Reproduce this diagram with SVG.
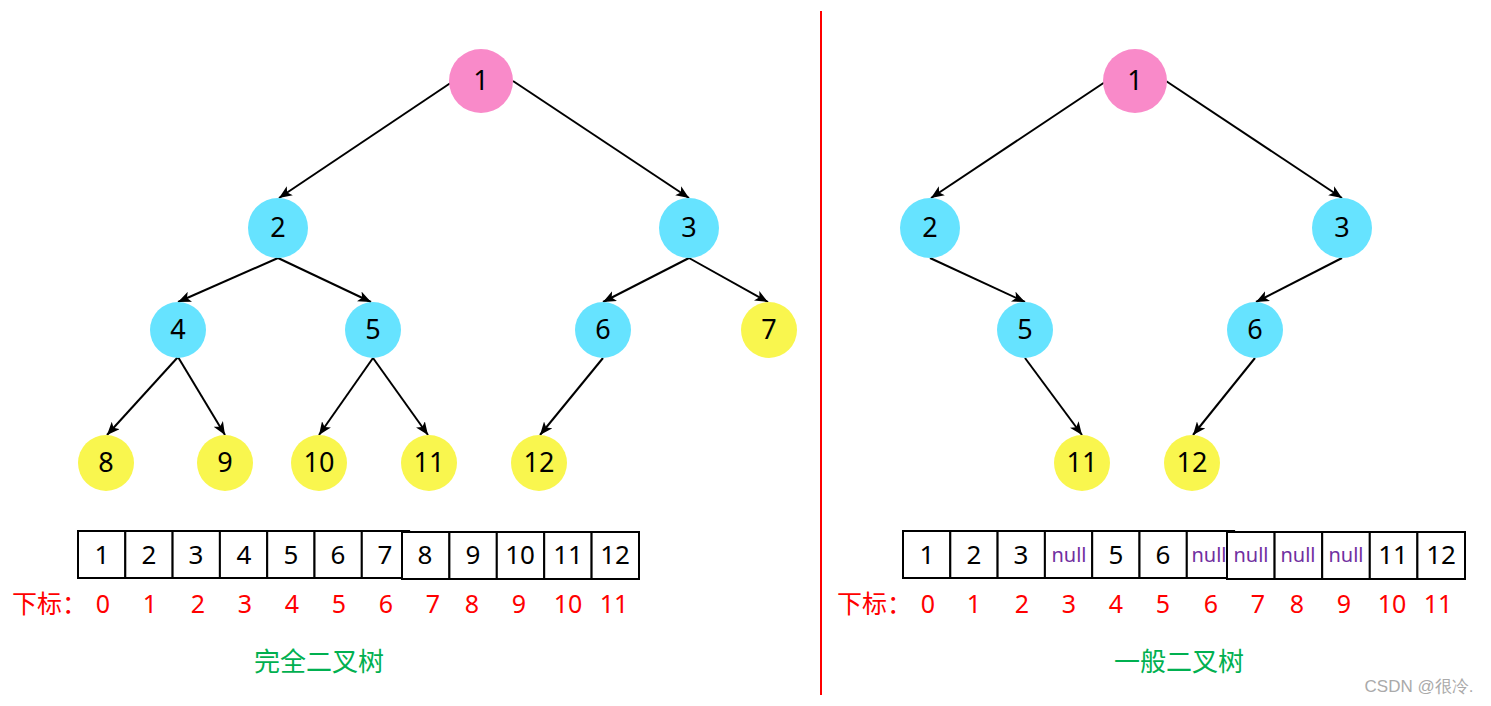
<svg xmlns="http://www.w3.org/2000/svg" width="1491" height="706" viewBox="0 0 1491 706">
<style>
.pink{fill:#F98AC9}
.cyan{fill:#66E3FF}
.yel{fill:#F9F64E}
.nt{font-family:"Noto Sans","Noto Sans CJK SC",sans-serif;font-size:27px;fill:#000;text-anchor:middle}
.cell{fill:#fff;stroke:#000;stroke-width:2}
.ct{font-family:"Noto Sans","Noto Sans CJK SC",sans-serif;font-size:26px;fill:#000;text-anchor:middle}
.nul{font-family:"Noto Sans","Noto Sans CJK SC",sans-serif;font-size:20px;fill:#7030A0;text-anchor:middle}
.idx{font-family:"Noto Sans","Noto Sans CJK SC",sans-serif;font-size:25px;fill:#FF0000;text-anchor:middle}
.lbl{font-family:"Noto Sans CJK SC","Noto Sans",sans-serif;font-size:25px;fill:#FF0000}
.cap{font-family:"Noto Sans CJK SC",sans-serif;font-size:26px;fill:#00B050;text-anchor:middle}
.edge{stroke:#000;stroke-width:2;fill:none;marker-end:url(#arr)}
</style>
<defs>
<marker id="arr" viewBox="0 0 12 10" refX="12" refY="5" markerWidth="13" markerHeight="11" markerUnits="userSpaceOnUse" orient="auto">
<path d="M0,0 L12,5 L0,10 L3,5 Z" fill="#000"/>
</marker>
</defs>
<rect width="1491" height="706" fill="#fff"/>
<g id="connectors">
<line class="edge" x1="452" y1="82" x2="279" y2="198"/>
<line class="edge" x1="513" y1="81" x2="689" y2="198"/>
<line class="edge" x1="278" y1="258" x2="178" y2="302"/>
<line class="edge" x1="278" y1="258" x2="371" y2="302"/>
<line class="edge" x1="689" y1="258" x2="603" y2="302"/>
<line class="edge" x1="689" y1="258" x2="768" y2="302"/>
<line class="edge" x1="178" y1="357" x2="107" y2="435"/>
<line class="edge" x1="178" y1="357" x2="225" y2="435"/>
<line class="edge" x1="373" y1="358" x2="319" y2="435"/>
<line class="edge" x1="373" y1="358" x2="428" y2="435"/>
<line class="edge" x1="603" y1="358" x2="540" y2="435"/>
<line class="edge" x1="1105" y1="82" x2="931" y2="198"/>
<line class="edge" x1="1166" y1="81" x2="1342" y2="198"/>
<line class="edge" x1="930" y1="258" x2="1025" y2="302"/>
<line class="edge" x1="1342" y1="258" x2="1256" y2="302"/>
<line class="edge" x1="1025" y1="358" x2="1082" y2="435"/>
<line class="edge" x1="1255" y1="358" x2="1193" y2="435"/>
</g>
<g id="L1"><circle class="pink" cx="481" cy="81" r="32"/><text class="nt" x="481" y="90">1</text></g>
<g id="L2"><circle class="cyan" cx="278" cy="228" r="30"/><text class="nt" x="278" y="237">2</text></g>
<g id="L3"><circle class="cyan" cx="689" cy="228" r="30"/><text class="nt" x="689" y="237">3</text></g>
<g id="L4"><circle class="cyan" cx="178" cy="330" r="28"/><text class="nt" x="178" y="339">4</text></g>
<g id="L5"><circle class="cyan" cx="373" cy="330" r="28"/><text class="nt" x="373" y="339">5</text></g>
<g id="L6"><circle class="cyan" cx="603" cy="330" r="28"/><text class="nt" x="603" y="339">6</text></g>
<g id="L7"><circle class="yel" cx="769" cy="330" r="28"/><text class="nt" x="769" y="339">7</text></g>
<g id="L8"><circle class="yel" cx="106" cy="463" r="28"/><text class="nt" x="106" y="472">8</text></g>
<g id="L9"><circle class="yel" cx="225" cy="463" r="28"/><text class="nt" x="225" y="472">9</text></g>
<g id="L10"><circle class="yel" cx="319" cy="463" r="28"/><text class="nt" x="319" y="472">10</text></g>
<g id="L11"><circle class="yel" cx="429" cy="463" r="28"/><text class="nt" x="429" y="472">11</text></g>
<g id="L12"><circle class="yel" cx="539" cy="463" r="28"/><text class="nt" x="539" y="472">12</text></g>
<g id="R1"><circle class="pink" cx="1135" cy="81" r="32"/><text class="nt" x="1135" y="90">1</text></g>
<g id="R2"><circle class="cyan" cx="930" cy="228" r="30"/><text class="nt" x="930" y="237">2</text></g>
<g id="R3"><circle class="cyan" cx="1342" cy="228" r="30"/><text class="nt" x="1342" y="237">3</text></g>
<g id="R5"><circle class="cyan" cx="1025" cy="330" r="28"/><text class="nt" x="1025" y="339">5</text></g>
<g id="R6"><circle class="cyan" cx="1255" cy="330" r="28"/><text class="nt" x="1255" y="339">6</text></g>
<g id="R11"><circle class="yel" cx="1082" cy="463" r="28"/><text class="nt" x="1082" y="472">11</text></g>
<g id="R12"><circle class="yel" cx="1192" cy="463" r="28"/><text class="nt" x="1192" y="472">12</text></g>
<g id="left-array">
<rect class="cell" x="78" y="531" width="47.3" height="47"/>
<rect class="cell" x="125.3" y="531" width="47.3" height="47"/>
<rect class="cell" x="172.6" y="531" width="47.3" height="47"/>
<rect class="cell" x="219.9" y="531" width="47.3" height="47"/>
<rect class="cell" x="267.2" y="531" width="47.3" height="47"/>
<rect class="cell" x="314.5" y="531" width="47.3" height="47"/>
<rect class="cell" x="361.8" y="531" width="47.3" height="47"/>
<rect class="cell" x="402" y="532" width="47.4" height="47"/>
<rect class="cell" x="449.4" y="532" width="47.4" height="47"/>
<rect class="cell" x="496.8" y="532" width="47.4" height="47"/>
<rect class="cell" x="544.2" y="532" width="47.4" height="47"/>
<rect class="cell" x="591.6" y="532" width="47.4" height="47"/>
<text class="ct" x="102" y="564">1</text>
<text class="ct" x="149" y="564">2</text>
<text class="ct" x="196" y="564">3</text>
<text class="ct" x="244" y="564">4</text>
<text class="ct" x="291" y="564">5</text>
<text class="ct" x="338" y="564">6</text>
<text class="ct" x="385" y="564">7</text>
<text class="ct" x="425" y="564">8</text>
<text class="ct" x="473" y="564">9</text>
<text class="ct" x="520" y="564">10</text>
<text class="ct" x="568" y="564">11</text>
<text class="ct" x="615" y="564">12</text>
</g>
<g id="left-index">
<text class="lbl" x="12" y="613">下标：</text>
<text class="idx" x="103" y="613">0</text>
<text class="idx" x="150" y="613">1</text>
<text class="idx" x="198" y="613">2</text>
<text class="idx" x="245" y="613">3</text>
<text class="idx" x="292" y="613">4</text>
<text class="idx" x="339" y="613">5</text>
<text class="idx" x="386" y="613">6</text>
<text class="idx" x="433" y="613">7</text>
<text class="idx" x="472" y="613">8</text>
<text class="idx" x="519" y="613">9</text>
<text class="idx" x="568" y="613">10</text>
<text class="idx" x="614" y="613">11</text>
</g>
<g id="right-array">
<rect class="cell" x="903" y="531" width="47.3" height="47"/>
<rect class="cell" x="950.3" y="531" width="47.3" height="47"/>
<rect class="cell" x="997.6" y="531" width="47.3" height="47"/>
<rect class="cell" x="1044.9" y="531" width="47.3" height="47"/>
<rect class="cell" x="1092.2" y="531" width="47.3" height="47"/>
<rect class="cell" x="1139.5" y="531" width="47.3" height="47"/>
<rect class="cell" x="1186.8" y="531" width="47.3" height="47"/>
<text class="nul" x="1209" y="562">null</text>
<rect class="cell" x="1227" y="532" width="47.6" height="47"/>
<rect class="cell" x="1274.6" y="532" width="47.6" height="47"/>
<rect class="cell" x="1322.2" y="532" width="47.6" height="47"/>
<rect class="cell" x="1369.8" y="532" width="47.6" height="47"/>
<rect class="cell" x="1417.4" y="532" width="47.6" height="47"/>
<text class="ct" x="927" y="564">1</text>
<text class="ct" x="974" y="564">2</text>
<text class="ct" x="1021" y="564">3</text>
<text class="nul" x="1069" y="562">null</text>
<text class="ct" x="1116" y="564">5</text>
<text class="ct" x="1163" y="564">6</text>
<text class="nul" x="1251" y="562">null</text>
<text class="nul" x="1298" y="562">null</text>
<text class="nul" x="1346" y="562">null</text>
<text class="ct" x="1393" y="564">11</text>
<text class="ct" x="1441" y="564">12</text>
</g>
<g id="right-index">
<text class="lbl" x="837" y="613">下标：</text>
<text class="idx" x="928" y="613">0</text>
<text class="idx" x="974" y="613">1</text>
<text class="idx" x="1022" y="613">2</text>
<text class="idx" x="1069" y="613">3</text>
<text class="idx" x="1116" y="613">4</text>
<text class="idx" x="1163" y="613">5</text>
<text class="idx" x="1211" y="613">6</text>
<text class="idx" x="1258" y="613">7</text>
<text class="idx" x="1297" y="613">8</text>
<text class="idx" x="1344" y="613">9</text>
<text class="idx" x="1392" y="613">10</text>
<text class="idx" x="1438" y="613">11</text>
</g>
<line id="divider" x1="821" y1="11" x2="821" y2="695" stroke="#FF0000" stroke-width="2"/>
<text class="cap" x="319" y="671">完全二叉树</text>
<text class="cap" x="1179" y="671">一般二叉树</text>
<text x="1419" y="692" font-family="Liberation Sans,Arial,sans-serif" font-size="17" fill="#aaaaaa" text-anchor="middle">CSDN @很冷.</text>
</svg>
